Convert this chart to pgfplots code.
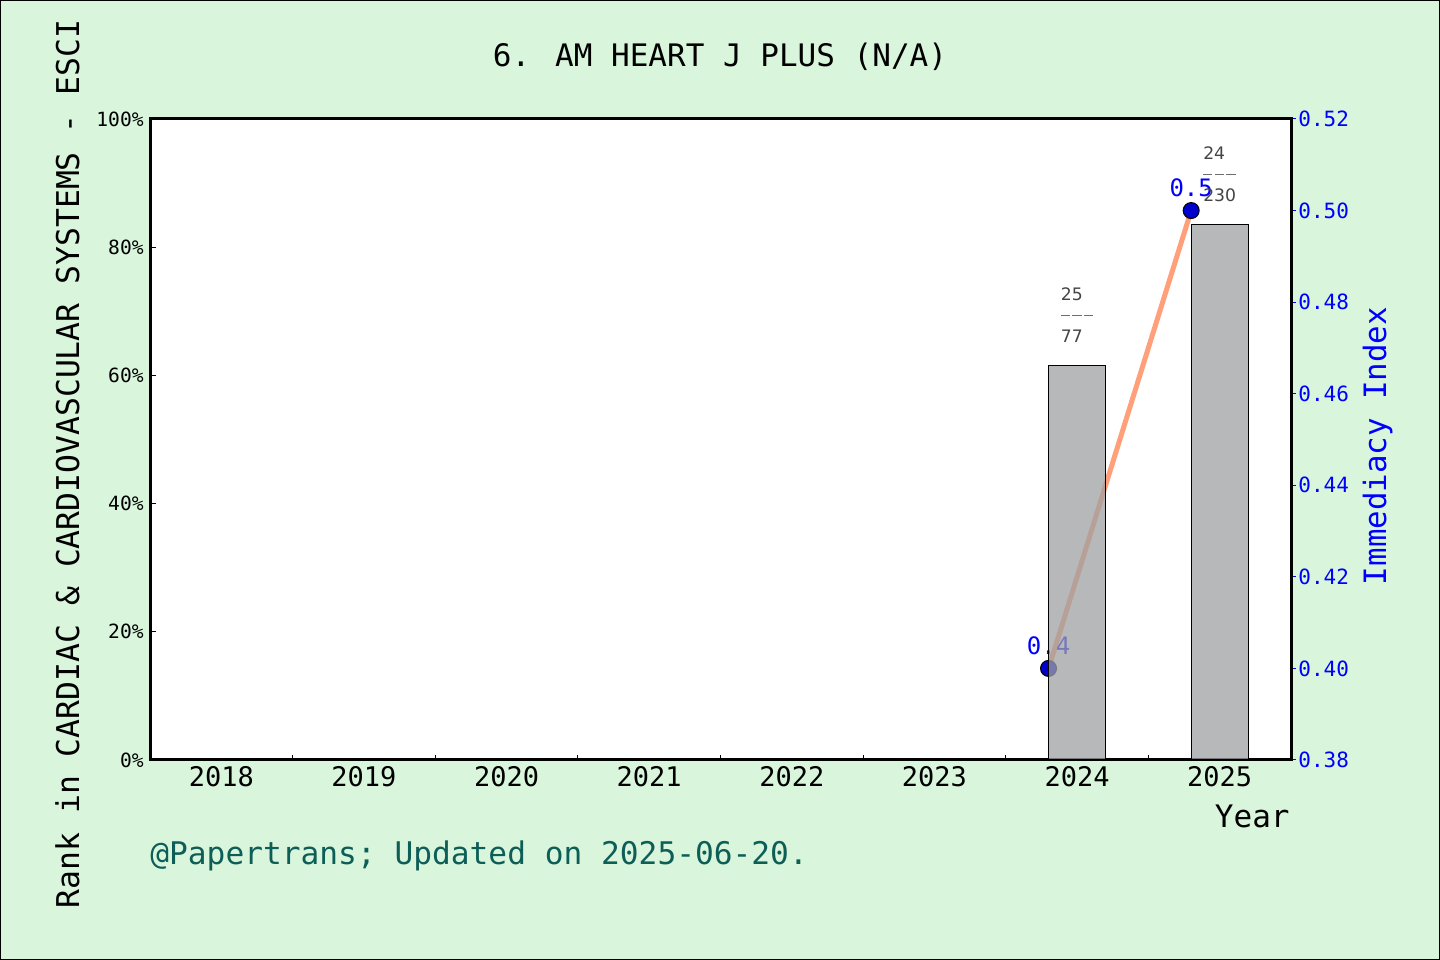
\documentclass[border=0pt]{standalone}
\usepackage{fontspec}
\setmainfont{DejaVu Sans Mono}
\newfontfamily\barfont{DejaVu Sans}
\usepackage{pgfplots}
\pgfplotsset{compat=1.18}
\definecolor{bg}{RGB}{217,246,221}
\definecolor{foot}{RGB}{14,94,88}
\definecolor{barc}{RGB}{160,161,163}
\definecolor{salm}{RGB}{255,160,122}
\definecolor{mk}{RGB}{0,0,205}
\definecolor{lbl}{RGB}{68,68,68}
\definecolor{dsh}{RGB}{110,110,110}
\newcommand\dashes{{\color{dsh}\rule[2.8bp]{4.6bp}{0.6bp}\kern1.2bp\rule[2.8bp]{4.6bp}{0.6bp}\kern1.2bp\rule[2.8bp]{4.6bp}{0.6bp}}}
\begin{document}
\begin{tikzpicture}[x=1bp,y=1bp]
\fill[bg] (0,0) rectangle (720,480);
\draw[black, line width=0.5bp] (0.25,0.25) rectangle (719.75,479.75);
% right axis: immediacy index line
\begin{axis}[
  at={(75bp,100bp)}, anchor=south west, scale only axis,
  width=570.5bp, height=320.5bp,
  xmin=2017.5, xmax=2025.5, ymin=0.38, ymax=0.52,
  axis x line=none, axis y line*=right,
  axis line style={black, line width=1.5bp},
  axis background/.style={fill=white},
  ytick={0.38,0.40,0.42,0.44,0.46,0.48,0.50,0.52},
  y tick style={blue, line width=0.5bp},
  tick align=outside, major tick length=2.5bp,
  yticklabel style={blue, font=\fontsize{10.5bp}{12bp}\selectfont, inner sep=1bp,
    /pgf/number format/.cd, fixed, precision=2, fixed zerofill, assume math mode=true},
  clip=false,
]
\addplot[salm, line width=2.5bp, mark=*, mark size=4bp,
  mark options={fill=mk, draw=black, line width=0.5bp},
  nodes near coords, point meta=explicit symbolic,
  every node near coord/.append style={blue, anchor=base, yshift=7bp,
    font=\fontsize{12bp}{14bp}\selectfont}]
  coordinates {(2023.8,0.40) [0.4] (2024.8,0.50) [0.5]};
\end{axis}
% left axis: rank bars
\begin{axis}[
  at={(75bp,100bp)}, anchor=south west, scale only axis,
  width=570.5bp, height=320.5bp,
  xmin=2017.5, xmax=2025.5, ymin=0, ymax=100,
  axis line style={black, line width=1.5bp},
  xtick={2018,2019,2020,2021,2022,2023,2024,2025},
  xticklabels={2018,2019,2020,2021,2022,2023,2024,2025},
  major x tick style={draw=none},
  minor xtick={2018.5,2019.5,2020.5,2021.5,2022.5,2023.5,2024.5},
  minor tick length=2.5bp, major tick length=3bp,
  tick align=inside, xtick pos=bottom, ytick pos=left,
  tick style={black, line width=0.5bp},
  xticklabel style={anchor=base, yshift=-13.5bp, font=\fontsize{13.5bp}{15bp}\selectfont},
  ytick={0,20,40,60,80,100},
  yticklabels={0\%,20\%,40\%,60\%,80\%,100\%},
  yticklabel style={font=\fontsize{9.8bp}{11bp}\selectfont, inner sep=3bp},
  clip=false,
]
\addplot[ybar, bar width=0.4, fill=barc, fill opacity=0.75, draw=black, line width=0.5bp]
  coordinates {(2024,61.5) (2025,83.5)};
\node[anchor=base, inner sep=0pt, yshift=11.5bp, text=lbl,
  font=\barfont\fontsize{8.6bp}{10.5bp}\selectfont]
  at (axis cs:2024,61.5) {\begin{tabular}[b]{@{}l@{}}25\\\dashes\\77\end{tabular}};
\node[anchor=base, inner sep=0pt, yshift=11.5bp, text=lbl,
  font=\barfont\fontsize{8.6bp}{10.5bp}\selectfont]
  at (axis cs:2025,83.5) {\begin{tabular}[b]{@{}l@{}}24\\\dashes\\230\end{tabular}};
\end{axis}
% titles and labels
\node[anchor=base, font=\fontsize{15.5bp}{18bp}\selectfont] at (360,446.5) {6. AM HEART J PLUS (N/A)};
\node[anchor=base, rotate=90, font=\fontsize{15.7bp}{18bp}\selectfont] at (39.5,248) {Rank in CARDIAC \& CARDIOVASCULAR SYSTEMS - ESCI};
\node[anchor=base, rotate=90, text=blue, font=\fontsize{15.4bp}{18bp}\selectfont] at (693,257) {Immediacy Index};
\node[anchor=base east, inner sep=0pt, font=\fontsize{15.5bp}{18bp}\selectfont] at (645,66) {Year};
\node[anchor=base west, inner sep=0pt, text=foot, font=\fontsize{15.6bp}{18bp}\selectfont] at (75,47.5) {@Papertrans; Updated on 2025-06-20.};
\end{tikzpicture}
\end{document}
